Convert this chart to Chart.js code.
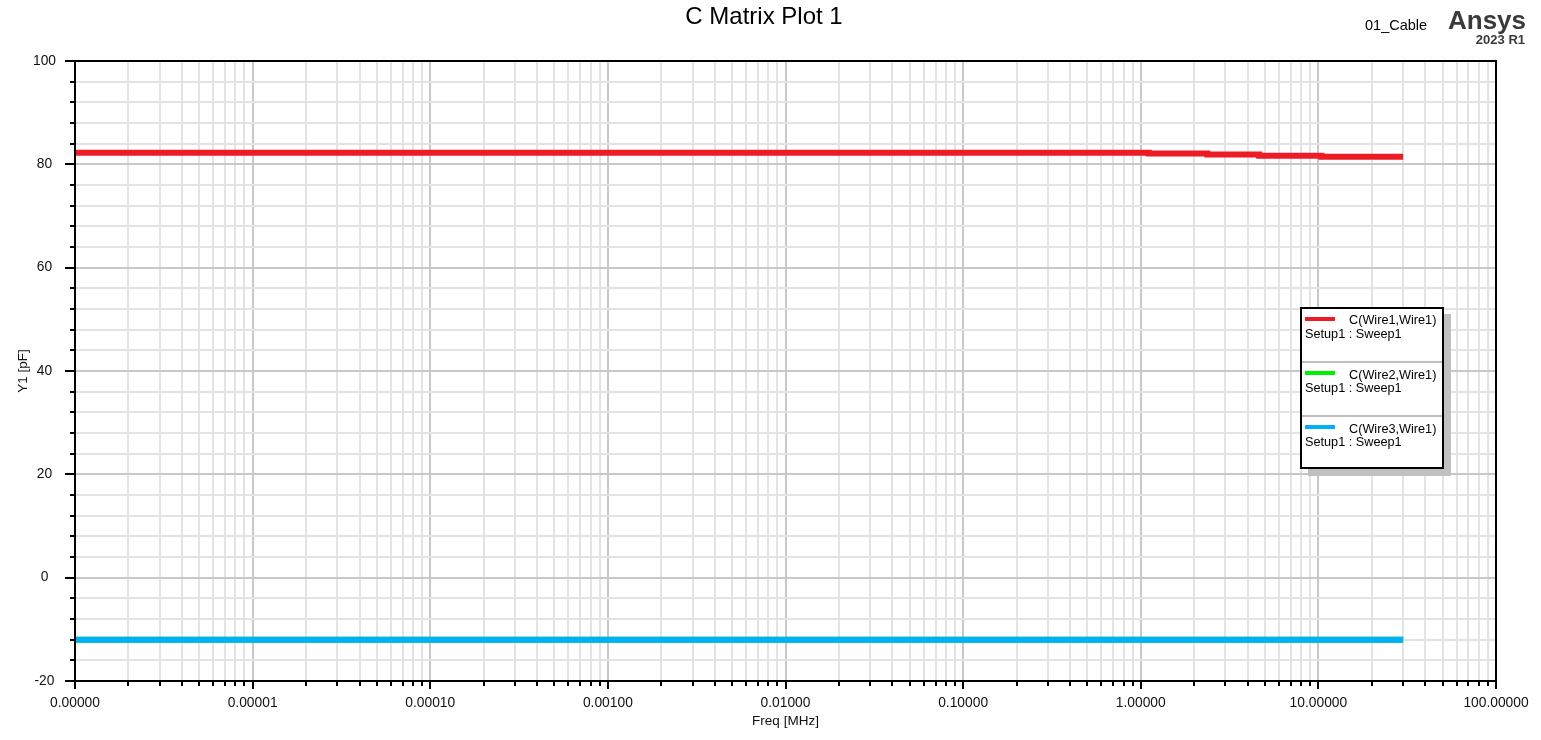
<!DOCTYPE html>
<html><head><meta charset="utf-8">
<script src="https://cdn.jsdelivr.net/npm/chart.js@4.4.1/dist/chart.umd.min.js"></script>
<style>
html,body{margin:0;padding:0;background:#fff;overflow:hidden}
#wrap{position:relative;width:1541px;height:740px}
canvas{position:absolute;left:0;top:0}
.t{position:absolute;font-family:'Liberation Sans',Arial,sans-serif;line-height:1;white-space:nowrap;color:#000}
#shadow{position:absolute;left:1308px;top:314px;width:143px;height:162px;background:#c0c0c0}
#legend{position:absolute;left:1300px;top:307px;width:144px;height:162px;box-sizing:border-box;border:2px solid #000;background:#fff}
.sep{position:absolute;left:0;width:140px;height:2px;background:#c0c0c0}
.sw{position:absolute;left:3px;width:30px;height:4px}
</style></head><body>
<div id="wrap">
<canvas id="c" width="1541" height="740"></canvas>
<div class="t" style="left:1365px;top:18px;font-size:14.5px">01_Cable</div>
<div class="t" style="left:1448px;top:7px;font-size:26px;font-weight:bold;color:#3a3a3a">Ansys</div>
<div class="t" style="right:16px;top:33px;font-size:13px;font-weight:bold;color:#3a3a3a">2023 R1</div>
<div id="shadow"></div>
<div id="legend"></div>
</div>
<script>
// ---- data ----
const seriesNames = ['C(Wire1,Wire1)', 'C(Wire2,Wire1)', 'C(Wire3,Wire1)'];
const seriesSetup = 'Setup1 : Sweep1';
const seriesColors = ['#ed1c24', '#00f000', '#00b2f5'];

const freqWire1 = [0.000001, 1.11, 2.37, 4.64, 10.4, 22.6, 30];
const cWire1Wire1 = [82.42, 82.22, 82.08, 81.88, 81.68, 81.48, 81.48];

const freqWire2 = [0.000001, 30];
const cWire2Wire1 = [-12.0, -12.0];

const freqWire3 = [0.000001, 30];
const cWire3Wire1 = [-12.0, -12.0];

const xDecades = [0.000001, 0.00001, 0.0001, 0.001, 0.01, 0.1, 1, 10, 100];
const xTickLabels = ['0.00000', '0.00001', '0.00010', '0.00100', '0.01000', '0.10000', '1.00000', '10.00000', '100.00000'];
const xMinorMultipliers = [2, 3, 4, 5, 6, 7, 8, 9];
const yTickValues = [-20, 0, 20, 40, 60, 80, 100];
const yTickLabels = ['-20', '0', '20', '40', '60', '80', '100'];

// ---- helpers ----
function pts(xs, ys) { return xs.map((x, i) => ({x: x, y: ys[i]})); }
function decadeIndex(v) {
  for (let i = 0; i < xDecades.length; i++) {
    if (Math.abs(v - xDecades[i]) <= xDecades[i] * 1e-6) return i;
  }
  return -1;
}
const xTickValues = [];
xDecades.forEach((d, i) => {
  xTickValues.push(d);
  if (i < xDecades.length - 1) xMinorMultipliers.forEach(m => xTickValues.push(d * m));
});
xTickValues.sort((a, b) => a - b);

// ---- legend (HTML text) ----
const legend = document.getElementById('legend');
seriesNames.forEach((name, i) => {
  const off = 54.2 * i;
  const sw = document.createElement('div');
  sw.className = 'sw'; sw.style.top = (7.8 + off) + 'px'; sw.style.background = seriesColors[i];
  legend.appendChild(sw);
  const n = document.createElement('div');
  n.className = 't'; n.style.left = '47px'; n.style.top = (5.3 + off) + 'px'; n.style.fontSize = '12.7px';
  n.textContent = name; legend.appendChild(n);
  const s = document.createElement('div');
  s.className = 't'; s.style.left = '3px'; s.style.top = (18.8 + off) + 'px'; s.style.fontSize = '12.7px';
  s.textContent = seriesSetup; legend.appendChild(s);
  if (i > 0) {
    const sep = document.createElement('div');
    sep.className = 'sep'; sep.style.top = (52 + 54 * (i - 1)) + 'px';
    legend.appendChild(sep);
  }
});

Chart.defaults.font.family = "'Liberation Sans', Arial, sans-serif";
Chart.defaults.color = '#000';

const frame = {
  id: 'frame',
  afterDraw(chart) {
    const {ctx, chartArea: a, scales: {x, y}} = chart;
    ctx.save();
    ctx.strokeStyle = '#000';
    ctx.lineWidth = 2;
    x.ticks.forEach(t => {
      const p = Math.round(x.getPixelForValue(t.value));
      const len = decadeIndex(t.value) >= 0 ? 8 : 5;
      ctx.beginPath(); ctx.moveTo(p, a.bottom); ctx.lineTo(p, a.bottom + len); ctx.stroke();
    });
    y.ticks.forEach(t => {
      const p = Math.round(y.getPixelForValue(t.value));
      const len = yTickValues.includes(t.value) ? 10 : 5;
      ctx.beginPath(); ctx.moveTo(a.left, p); ctx.lineTo(a.left - len, p); ctx.stroke();
    });
    ctx.strokeRect(a.left, a.top, a.right - a.left, a.bottom - a.top);
    ctx.restore();
  }
};

const freqSets = [freqWire1, freqWire2, freqWire3];
const valSets = [cWire1Wire1, cWire2Wire1, cWire3Wire1];
const orders = [2, 1, 0];

new Chart(document.getElementById('c'), {
  type: 'line',
  data: {
    datasets: seriesNames.map((name, i) => ({
      label: name,
      data: pts(freqSets[i], valSets[i]),
      borderColor: seriesColors[i],
      backgroundColor: seriesColors[i],
      borderWidth: 6,
      pointRadius: 0,
      stepped: 'after',
      fill: false,
      order: orders[i]
    }))
  },
  options: {
    responsive: false,
    animation: false,
    devicePixelRatio: 1,
    layout: {padding: {left: 32, right: 45, top: 0, bottom: 0}},
    plugins: {
      legend: {display: false},
      tooltip: {enabled: false},
      title: {
        display: true,
        text: 'C Matrix Plot 1',
        color: '#000',
        font: {size: 24, weight: 'normal'},
        padding: {top: 3.4, bottom: 28.8}
      }
    },
    scales: {
      x: {
        type: 'logarithmic',
        min: 0.000001,
        max: 100,
        afterBuildTicks: s => { s.ticks = xTickValues.map(v => ({value: v})); },
        afterFit: s => { s.height = 59; s.paddingLeft = 0; s.paddingRight = 0; },
        ticks: {
          autoSkip: false,
          maxRotation: 0,
          padding: 14,
          font: {size: 13.8},
          color: '#111',
          callback: v => { const i = decadeIndex(v); return i >= 0 ? xTickLabels[i] : ''; }
        },
        grid: {
          drawTicks: false,
          lineWidth: 2,
          color: c => (c.tick && decadeIndex(c.tick.value) >= 0) ? '#c8c8c8' : '#e3e3e3'
        },
        border: {color: '#000', width: 2},
        title: {display: true, text: 'Freq [MHz]', font: {size: 13.5}, color: '#111', padding: {top: 0, bottom: 10.2}}
      },
      y: {
        min: -20,
        max: 100,
        afterFit: s => { s.width = 43; s.paddingTop = 0; s.paddingBottom = 0; },
        ticks: {
          stepSize: 4,
          autoSkip: false,
          crossAlign: 'center',
          padding: 19,
          font: {size: 13.8},
          color: '#111',
          callback: v => { const i = yTickValues.indexOf(v); return i >= 0 ? yTickLabels[i] : ''; }
        },
        grid: {
          drawTicks: false,
          lineWidth: 2,
          color: c => (c.tick && yTickValues.includes(c.tick.value)) ? '#c8c8c8' : '#e3e3e3'
        },
        border: {color: '#000', width: 2},
        title: {display: true, text: 'Y1 [pF]', font: {size: 13.5}, color: '#111', padding: {top: -17.1, bottom: 0}}
      }
    }
  },
  plugins: [frame]
});
</script>
</body></html>
